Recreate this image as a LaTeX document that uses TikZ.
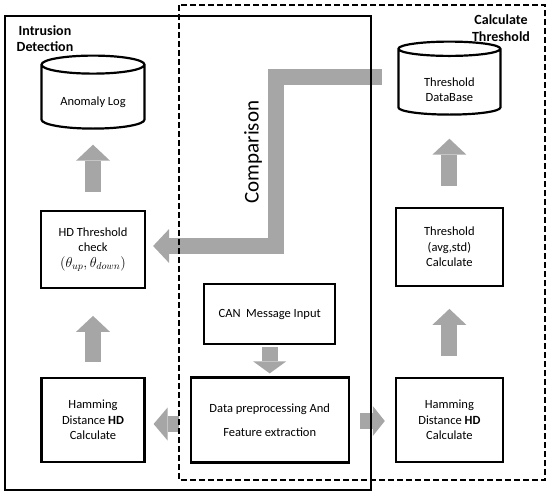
\documentclass[tikz,border=0pt]{standalone}
\usepackage{fontspec}
\setmainfont{Carlito}
\usetikzlibrary{shapes.geometric, arrows.meta, positioning}
\usepackage{xcolor}
\definecolor{flowgray}{RGB}{166, 166, 166}

\newcommand{\lowered}[2]{\raisebox{-#1}[\height][\depth]{\begin{tabular}{@{}c@{}}#2\end{tabular}}}

\begin{document}
\begin{tikzpicture}[
    x=1pt, y=-1pt,
    block/.style={rectangle, draw, line width=2.2pt, align=center, inner sep=2pt, font=\fontsize{12.5}{15.5}\selectfont},
    store/.style={cylinder, shape border rotate=90, aspect=0.25, draw, line width=2.2pt, align=center, minimum width=103pt, minimum height=73pt, font=\fontsize{12.5}{15}\selectfont},
    areatitle/.style={align=center, font=\fontsize{14}{16.5}\selectfont\bfseries},
    fat/.style={flowgray, line width=16pt, -{Triangle[length=16pt, width=34pt, line width=0pt]}},
    frame/.style={line width=2.2pt}
]
\useasboundingbox (0,0) rectangle (550,496);

% left column
\node[block, minimum width=103pt, minimum height=84pt] (hdl) at (93,420) {Hamming\\Distance \textbf{HD}\\Calculate};
\node[block, minimum width=104pt, minimum height=77pt, above=88pt of hdl] (chk) {HD Threshold\\check\\{\fontsize{14.5}{15}\selectfont$(\theta_{up},\theta_{down})$}};
\node[store, above=80pt of chk] (log) {\lowered{4pt}{Anomaly Log}};

% middle column
\node[block, minimum width=158pt, minimum height=85pt, font=\fontsize{12.5}{24}\selectfont, right=44pt of hdl] (pre) {Data preprocessing And\\Feature extraction};
\node[block, minimum width=131pt, minimum height=60pt, above=31pt of pre] (can) {CAN\ \ Message Input};

% right column
\node[block, minimum width=107pt, minimum height=84pt, right=45pt of pre] (hdr) {Hamming\\Distance \textbf{HD}\\Calculate};
\node[block, minimum width=107pt, minimum height=78pt, above=90pt of hdr] (thr) {Threshold\\(avg,std)\\Calculate};
\node[store, minimum width=102pt, above=91pt of thr] (db) {\lowered{7pt}{Threshold\\DataBase}};

% titles
\node[areatitle] (idt) at (45,38.5) {Intrusion\\Detection};
\node[areatitle] (ctt) at (501,28) {Calculate\\Threshold};
\node[rotate=90, font=\fontsize{21}{22}\selectfont] (cmp) at (253,152) {Comparison};

% flow arrows
\draw[fat, shorten <=18pt, shorten >=15pt] (chk.north) -- (log.south);
\draw[fat, shorten <=15pt, shorten >=27pt] (hdl.north) -- (chk.south);
\draw[fat, shorten <=2pt, shorten >=3pt, -{Triangle[length=12pt, width=33pt, line width=0pt]}] (can.south) -- (pre.north);
\draw[fat, shorten <=11pt, shorten >=8pt, -{Triangle[length=14pt, width=33pt, line width=0pt]}] ([yshift=-4pt]pre.west) -- ([yshift=-4pt]hdl.east);
\draw[fat, shorten <=10pt, shorten >=10pt, -{Triangle[length=12pt, width=30pt, line width=0pt]}] ([yshift=-1pt]pre.east) -- ([yshift=-1pt]hdr.west);
\draw[fat, shorten <=21pt, shorten >=22pt] (hdr.north) -- (thr.south);
\draw[fat, shorten <=21pt, shorten >=23pt] (thr.north) -- (db.south);

% comparison path
\coordinate (cmpin) at (382,77);
\coordinate (cmpbend) at (275.5,246);
\draw[fat, shorten >=7pt] (cmpin) -| (cmpbend) -- (cmpbend -| chk.east);

% frames
\draw[frame] (5,16) rectangle (371,490);
\draw[frame, dash pattern=on 6pt off 3pt] (179,5) rectangle (545,480);
\end{tikzpicture}
\end{document}
